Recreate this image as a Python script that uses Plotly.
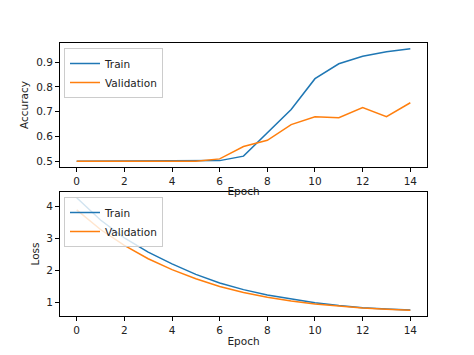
import plotly.graph_objects as go

epochs = list(range(15))
train_acc = [0.5, 0.5, 0.5, 0.5, 0.5, 0.5, 0.503, 0.521, 0.614, 0.709, 0.833, 0.893, 0.923, 0.941, 0.954]
val_acc = [0.5, 0.5, 0.5, 0.5, 0.5, 0.5, 0.510, 0.560, 0.585, 0.648, 0.680, 0.676, 0.717, 0.680, 0.736]
train_loss = [4.28, 3.58, 3.02, 2.57, 2.20, 1.87, 1.60, 1.39, 1.22, 1.09, 0.98, 0.89, 0.82, 0.78, 0.75]
val_loss = [3.90, 3.28, 2.78, 2.36, 2.02, 1.73, 1.49, 1.30, 1.15, 1.03, 0.94, 0.87, 0.81, 0.77, 0.74]

BLUE = "#1f77b4"
ORANGE = "#ff7f0e"
FONT = "DejaVu Sans"
FS = 10.5

fig = go.Figure()
fig.add_trace(go.Scatter(x=epochs, y=train_acc, mode="lines", name="Train",
                         line=dict(color=BLUE, width=1.5), xaxis="x", yaxis="y", legend="legend"))
fig.add_trace(go.Scatter(x=epochs, y=val_acc, mode="lines", name="Validation",
                         line=dict(color=ORANGE, width=1.5), xaxis="x", yaxis="y", legend="legend"))
fig.add_trace(go.Scatter(x=epochs, y=train_loss, mode="lines", name="Train",
                         line=dict(color=BLUE, width=1.5), xaxis="x2", yaxis="y2", legend="legend2"))
fig.add_trace(go.Scatter(x=epochs, y=val_loss, mode="lines", name="Validation",
                         line=dict(color=ORANGE, width=1.5), xaxis="x2", yaxis="y2", legend="legend2"))

axis_common = dict(showline=True, linecolor="#000", linewidth=1, mirror=True,
                   ticks="outside", ticklen=4, tickcolor="#000", showgrid=False,
                   zeroline=False, tickfont=dict(family=FONT, size=FS, color="#222"))
title_font = dict(family=FONT, size=FS, color="#222")

xd = [60 / 474, 427 / 474]
fig.update_layout(
    width=474, height=355,
    margin=dict(l=0, r=0, t=0, b=0),
    paper_bgcolor="white", plot_bgcolor="white",
    font=dict(family=FONT, size=FS, color="#222"),
    xaxis=dict(domain=xd, anchor="y", range=[-0.7, 14.7], tickvals=list(range(0, 15, 2)),
               title=dict(text="Epoch", standoff=2, font=title_font), **axis_common),
    yaxis=dict(domain=[1 - 167 / 355, 1 - 43 / 355], anchor="x", range=[0.4773, 0.9767],
               tickvals=[0.5, 0.6, 0.7, 0.8, 0.9], ticktext=["0.5", "0.6", "0.7", "0.8", "0.9"],
               title=dict(text="Accuracy", standoff=5, font=title_font), **axis_common),
    xaxis2=dict(domain=xd, anchor="y2", range=[-0.7, 14.7], tickvals=list(range(0, 15, 2)),
                title=dict(text="Epoch", standoff=3, font=title_font), **axis_common),
    yaxis2=dict(domain=[1 - 316 / 355, 1 - 192 / 355], anchor="x2", range=[0.56, 4.46],
                tickvals=[1, 2, 3, 4],
                title=dict(text="Loss", standoff=4, font=title_font), **axis_common),
    legend=dict(x=64 / 474, y=1 - 48 / 355, xanchor="left", yanchor="top",
                bgcolor="rgba(255,255,255,0.8)", bordercolor="#ccc", borderwidth=1,
                font=dict(family=FONT, size=FS, color="#222"), tracegroupgap=0, itemwidth=30),
    legend2=dict(x=64 / 474, y=1 - 197 / 355, xanchor="left", yanchor="top",
                 bgcolor="rgba(255,255,255,0.8)", bordercolor="#ccc", borderwidth=1,
                 font=dict(family=FONT, size=FS, color="#222"), tracegroupgap=0, itemwidth=30),
    showlegend=True,
)

fig.write_html("out.html", config={"displayModeBar": False},
               post_script="document.body.style.margin='0';document.body.style.padding='0';")
